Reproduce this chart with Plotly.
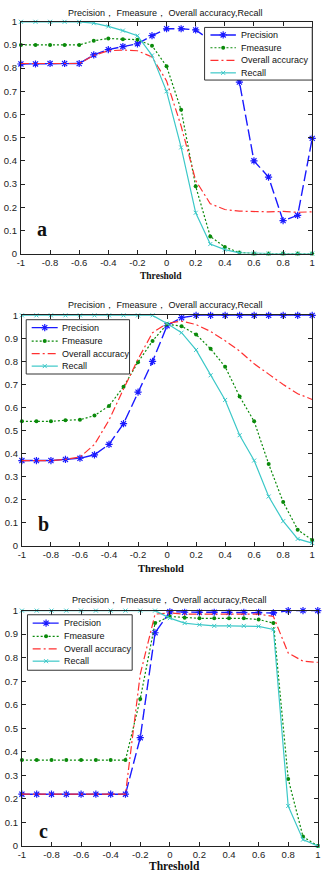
import plotly.graph_objects as go

# ---------------- data ----------------
thresholds = [-1.0, -0.9, -0.8, -0.7, -0.6, -0.5, -0.4, -0.3, -0.2, -0.1, 0.0,
              0.1, 0.2, 0.3, 0.4, 0.5, 0.6, 0.7, 0.8, 0.9, 1.0]

a_precision = [0.818, 0.818, 0.82, 0.82, 0.82, 0.857, 0.88, 0.893, 0.905, 0.94, 0.97,
               0.97, 0.965, 0.92, 0.86, 0.74, 0.40, 0.33, 0.142, 0.165, 0.497]
a_fmeasure = [0.90, 0.90, 0.90, 0.90, 0.90, 0.918, 0.928, 0.925, 0.923, 0.897, 0.808,
              0.62, 0.29, 0.074, 0.028, 0.004, 0.0, 0.0, 0.0, 0.0, 0.0]
a_accuracy = [0.82, 0.82, 0.82, 0.82, 0.82, 0.855, 0.875, 0.878, 0.875, 0.848, 0.745,
              0.55, 0.315, 0.215, 0.19, 0.183, 0.181, 0.18, 0.182, 0.178, 0.18]
a_recall = [1.0, 1.0, 1.0, 1.0, 1.0, 0.994, 0.98, 0.962, 0.94, 0.855, 0.70,
            0.458, 0.176, 0.041, 0.017, 0.003, 0.0, 0.0, 0.0, 0.0, 0.0]

b_precision = [0.37, 0.37, 0.37, 0.375, 0.38, 0.395, 0.44, 0.53, 0.667, 0.80, 0.955,
               0.99, 1.0, 1.0, 1.0, 1.0, 1.0, 1.0, 1.0, 1.0, 1.0]
b_fmeasure = [0.54, 0.54, 0.54, 0.545, 0.547, 0.565, 0.607, 0.69, 0.797, 0.889, 0.962,
              0.953, 0.917, 0.855, 0.777, 0.648, 0.54, 0.355, 0.19, 0.07, 0.025]
b_accuracy = [0.37, 0.37, 0.37, 0.375, 0.385, 0.44, 0.545, 0.68, 0.81, 0.925, 0.965,
              0.975, 0.96, 0.93, 0.89, 0.845, 0.79, 0.745, 0.70, 0.66, 0.635]
b_recall = [1.0, 1.0, 1.0, 1.0, 1.0, 1.0, 1.0, 1.0, 1.0, 1.0, 0.965,
            0.925, 0.85, 0.74, 0.633, 0.48, 0.37, 0.214, 0.107, 0.03, 0.012]

c_precision = [0.22, 0.22, 0.22, 0.22, 0.22, 0.22, 0.22, 0.22, 0.46, 0.906, 0.995,
               0.993, 0.993, 0.993, 0.993, 0.993, 0.993, 0.99, 1.0, 1.0, 1.0]
c_fmeasure = [0.365, 0.365, 0.365, 0.365, 0.365, 0.365, 0.365, 0.365, 0.625, 0.947, 0.975,
              0.97, 0.967, 0.967, 0.967, 0.967, 0.962, 0.947, 0.285, 0.04, 0.0]
c_accuracy = [0.22, 0.22, 0.22, 0.22, 0.22, 0.22, 0.22, 0.22, 0.73, 0.985, 0.99,
              0.985, 0.985, 0.985, 0.985, 0.985, 0.985, 0.975, 0.82, 0.785, 0.78]
c_recall = [1.0, 1.0, 1.0, 1.0, 1.0, 1.0, 1.0, 1.0, 1.0, 1.0, 0.968,
            0.947, 0.94, 0.935, 0.935, 0.935, 0.933, 0.92, 0.17, 0.027, 0.0]

series_names = ["Precision", "Fmeasure", "Overall accuracy", "Recall"]
panel_letters = ["a", "b", "c"]
title_text = "Precision， Fmeasure， Overall accuracy,Recall"
x_label = "Threshold"
x_tickvals = [-1, -0.8, -0.6, -0.4, -0.2, 0, 0.2, 0.4, 0.6, 0.8, 1]
x_ticktext = ["-1", "-0.8", "-0.6", "-0.4", "-0.2", "0", "0.2", "0.4", "0.6", "0.8", "1"]
y_tickvals = [0, 0.1, 0.2, 0.3, 0.4, 0.5, 0.6, 0.7, 0.8, 0.9, 1]
y_ticktext = ["0", "0.1", "0.2", "0.3", "0.4", "0.5", "0.6", "0.7", "0.8", "0.9", "1"]

panel_data = [
    [a_precision, a_fmeasure, a_accuracy, a_recall],
    [b_precision, b_fmeasure, b_accuracy, b_recall],
    [c_precision, c_fmeasure, c_accuracy, c_recall],
]

# ---------------- styling / layout ----------------
W, H = 325, 875


def fx(p):
    return p / W


def fy(p):
    return 1 - p / H


BLUE = "#1a1aff"
GREEN = "#0a8a0a"
RED = "#ff3030"
CYAN = "#3cc8c8"

line_styles = [
    dict(color=BLUE, width=1.4, dash="11px,4px"),
    dict(color=GREEN, width=1.2, dash="2px,2px"),
    dict(color=RED, width=1.2, dash="8px,3px,2px,3px"),
    dict(color=CYAN, width=1.2),
]
marker_styles = [
    dict(symbol="asterisk-open", size=6, color=BLUE, line=dict(color=BLUE, width=1.2)),
    dict(symbol="circle", size=4, color=GREEN),
    None,
    dict(symbol="x-thin-open", size=4, color=CYAN, line=dict(color=CYAN, width=1)),
]

# pixel geometry of each panel: (x_left, x_right, y_top, y_bottom)
boxes = [(17.3, 315.0, 16.0, 250.7),
         (18.3, 315.0, 313.3, 546.7),
         (18.3, 320.7, 612.3, 850.7)]
# legend box (x0, y0, x1, y1), sample line x-range, text x, row y positions
legend_boxes = [(205, 21.7, 315, 75), (22.7, 317.7, 128.3, 372.7), (24, 616.5, 131, 672.7)]
legend_lines = [(211, 237, 240), (28.3, 55, 57.5), (29.3, 56.7, 59)]
legend_rows = [(29.3, 42.3, 55, 67.7), (325.7, 339.3, 352, 364.7), (625, 638.3, 651, 663.5)]
title_pos = [(165, 7), (165, 303), (169, 602)]
xlabel_pos = [(160, 273, 9.5), (160, 570, 10.5), (174, 871, 11.5)]
letter_pos = [(39, 226), (40, 525), (40, 835)]

fig = go.Figure()
layout = dict(width=W, height=H, autosize=False,
              margin=dict(l=0, r=0, t=0, b=0),
              paper_bgcolor="white", plot_bgcolor="rgba(0,0,0,0)",
              showlegend=False, annotations=[])

tickfont = dict(family="Liberation Sans, Arial", size=9.5, color="#222")
legfont = dict(family="Liberation Sans, Arial", size=9, color="#111")

for i, (data, box) in enumerate(zip(panel_data, boxes)):
    sfx = "" if i == 0 else str(i + 1)
    xa, ya = "x" + sfx, "y" + sfx
    for name, vals, ls, ms in zip(series_names, data, line_styles, marker_styles):
        fig.add_trace(go.Scatter(x=thresholds, y=vals, name=name,
                                 mode="lines+markers" if ms else "lines",
                                 line=ls, marker=ms if ms else dict(size=1),
                                 xaxis=xa, yaxis=ya, cliponaxis=False))
    xl, xr, yt, yb = box
    common = dict(showline=True, linecolor="#222", linewidth=1, mirror="ticks",
                  ticks="inside", ticklen=4, tickcolor="#222", showgrid=False,
                  zeroline=False, tickfont=tickfont, fixedrange=True)
    layout["xaxis" + sfx] = dict(domain=[fx(xl), fx(xr)], range=[-1, 1], anchor=ya,
                                 tickvals=x_tickvals, ticktext=x_ticktext, ticklabelstandoff=0, **common)
    layout["yaxis" + sfx] = dict(domain=[fy(yb), fy(yt)], range=[0, 1], anchor=xa,
                                 tickvals=y_tickvals, ticktext=y_ticktext, ticklabelstandoff=1, **common)
    tx, ty = title_pos[i]
    layout["annotations"].append(dict(text=title_text, x=fx(tx), y=fy(ty), xref="paper", yref="paper",
                                      xanchor="center", yanchor="middle", showarrow=False,
                                      font=dict(family="Liberation Sans, Arial", size=9, color="#111")))
    qx, qy, qs = xlabel_pos[i]
    layout["annotations"].append(dict(text="<b>" + x_label + "</b>", x=fx(qx), y=fy(qy), xref="paper",
                                      yref="paper", xanchor="center", yanchor="middle", showarrow=False,
                                      font=dict(family="Liberation Serif, Times New Roman", size=qs, color="#111")))
    px_, py_ = letter_pos[i]
    layout["annotations"].append(dict(text="<b>" + panel_letters[i] + "</b>", x=fx(px_), y=fy(py_),
                                      xref="paper", yref="paper", xanchor="center", yanchor="middle",
                                      showarrow=False,
                                      font=dict(family="Liberation Serif, Times New Roman", size=20, color="#111")))

# ---- overlay (pixel) axis used for the compact legends ----
layout["xaxis4"] = dict(domain=[0, 1], range=[0, W], visible=False, fixedrange=True, anchor="y4")
layout["yaxis4"] = dict(domain=[0, 1], range=[H, 0], visible=False, fixedrange=True, anchor="x4")

for i in range(3):
    x0, y0, x1, y1 = legend_boxes[i]
    fig.add_trace(go.Scatter(x=[x0, x1, x1, x0, x0], y=[y0, y0, y1, y1, y0], mode="lines",
                             fill="toself", fillcolor="white", line=dict(color="#333", width=1),
                             xaxis="x4", yaxis="y4", hoverinfo="skip", cliponaxis=False))
    lx0, lx1, tx = legend_lines[i]
    for name, ry, ls, ms in zip(series_names, legend_rows[i], line_styles, marker_styles):
        fig.add_trace(go.Scatter(x=[lx0, lx1], y=[ry, ry], mode="lines", line=ls,
                                 xaxis="x4", yaxis="y4", hoverinfo="skip", cliponaxis=False))
        if ms:
            fig.add_trace(go.Scatter(x=[(lx0 + lx1) / 2], y=[ry], mode="markers", marker=ms,
                                     xaxis="x4", yaxis="y4", hoverinfo="skip", cliponaxis=False))
        layout["annotations"].append(dict(text=name, x=fx(tx), y=fy(ry), xref="paper", yref="paper",
                                          xanchor="left", yanchor="middle", showarrow=False, font=legfont))

fig.update_layout(**layout)
fig.write_html("out.html")
